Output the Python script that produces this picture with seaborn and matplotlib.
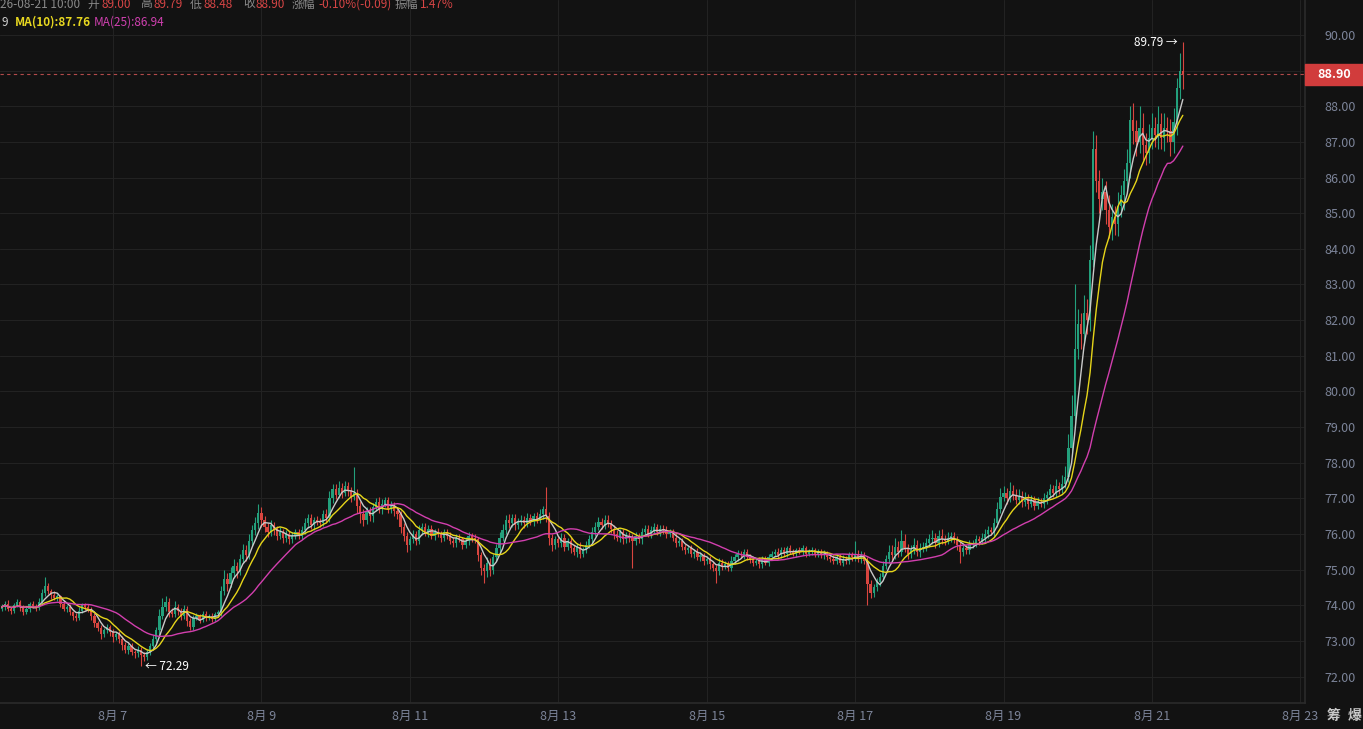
import numpy as np
import pandas as pd
import seaborn as sns
import matplotlib.pyplot as plt
import matplotlib.transforms as mtransforms
from matplotlib.patches import Rectangle

# hourly candles, 8月5 12:00 -> 8月21 10:00
first_open = 73.90
close = [
    73.95, 74.05, 73.90, 73.85, 74.00, 74.10, 73.95, 73.80, 73.90, 74.05, 73.98, 73.92,
    74.10, 74.35, 74.55, 74.40, 74.30, 74.20, 74.25, 74.05, 73.90, 73.95, 73.80, 73.70,
    73.65, 73.85, 74.00, 73.95, 73.90, 73.70, 73.50, 73.35, 73.20, 73.30, 73.40, 73.25,
    73.10, 73.20, 73.05, 72.90, 72.75, 72.85, 72.70, 72.65, 72.75, 72.60, 72.55, 72.70,
    72.85, 73.05, 73.30, 73.70, 73.95, 74.10, 73.80, 73.75, 73.95, 73.85, 73.70, 73.90,
    73.55, 73.40, 73.65, 73.70, 73.60, 73.75, 73.65, 73.70, 73.62, 73.75, 73.80, 74.40,
    74.75, 74.60, 74.90, 75.10, 74.95, 75.30, 75.55, 75.40, 75.80, 76.10, 76.30, 76.60,
    76.40, 76.20, 76.05, 76.25, 76.10, 75.95, 76.05, 75.90, 76.00, 75.85, 75.95, 76.05,
    75.95, 76.10, 76.30, 76.45, 76.25, 76.40, 76.35, 76.30, 76.55, 76.45, 77.00, 77.25,
    77.10, 77.30, 77.15, 77.35, 77.20, 77.05, 77.15, 76.80, 76.55, 76.40, 76.65, 76.50,
    76.75, 76.90, 76.70, 76.85, 76.95, 76.70, 76.80, 76.65, 76.55, 76.20, 75.95, 75.70,
    75.85, 76.00, 75.80, 76.10, 76.20, 76.05, 76.15, 75.95, 76.05, 76.00, 75.90, 76.05,
    75.95, 75.80, 75.75, 75.90, 75.85, 75.70, 75.80, 75.95, 75.90, 75.85, 75.40, 75.05,
    74.95, 75.20, 75.00, 75.35, 75.60, 75.90, 76.10, 76.40, 76.30, 76.45, 76.25, 76.35,
    76.40, 76.30, 76.45, 76.35, 76.50, 76.40, 76.55, 76.70, 76.50, 75.90, 75.70, 75.85,
    75.75, 75.90, 75.65, 75.80, 75.60, 75.50, 75.65, 75.45, 75.55, 75.70, 75.85, 76.05,
    76.20, 76.35, 76.25, 76.40, 76.30, 76.15, 76.00, 75.90, 76.05, 75.85, 75.95, 75.90,
    75.80, 75.95, 75.85, 76.05, 76.15, 76.00, 76.10, 76.20, 76.05, 76.15, 76.10, 76.00,
    76.05, 75.90, 75.75, 75.80, 75.65, 75.55, 75.60, 75.45, 75.50, 75.35, 75.40, 75.25,
    75.30, 75.15, 75.05, 74.95, 75.20, 75.10, 75.15, 75.05, 75.25, 75.35, 75.45, 75.40,
    75.50, 75.35, 75.30, 75.20, 75.25, 75.15, 75.30, 75.20, 75.35, 75.45, 75.50, 75.40,
    75.55, 75.45, 75.60, 75.50, 75.45, 75.55, 75.50, 75.60, 75.45, 75.50, 75.55, 75.45,
    75.50, 75.40, 75.45, 75.35, 75.30, 75.25, 75.35, 75.20, 75.30, 75.25, 75.40, 75.35,
    75.45, 75.30, 75.40, 75.25, 74.60, 74.35, 74.50, 74.65, 74.80, 75.10, 75.30, 75.50,
    75.40, 75.65, 75.50, 75.80, 75.60, 75.45, 75.55, 75.70, 75.50, 75.60, 75.65, 75.75,
    75.85, 75.90, 75.75, 75.95, 75.85, 75.80, 75.90, 75.95, 75.85, 75.70, 75.50, 75.60,
    75.55, 75.70, 75.75, 75.85, 75.80, 75.90, 76.00, 76.10, 76.05, 76.30, 76.70, 77.05,
    77.15, 77.00, 77.20, 77.10, 76.95, 77.05, 76.90, 77.00, 76.85, 76.95, 76.80, 76.90,
    76.85, 77.00, 77.10, 77.25, 77.15, 77.35, 77.25, 77.40, 77.60, 78.40, 79.30, 81.20,
    81.90, 81.60, 82.20, 82.00, 83.70, 86.80, 85.90, 85.40, 85.60, 85.10, 84.60, 84.90,
    84.70, 85.20, 85.50, 85.90, 86.40, 87.60, 87.30, 87.00, 87.40, 86.90, 86.70, 87.10,
    87.40, 87.20, 87.50, 87.10, 87.40, 87.30, 87.00, 87.55, 88.50, 89.00, 88.90,
]
# wick lengths in cents above / below the body
up_wick = [
    8, 6, 10, 5, 7, 9, 4, 6, 8, 5, 7, 6,
    10, 12, 25, 8, 6, 10, 7, 5, 9, 6, 8, 5,
    8, 10, 7, 6, 9, 5, 8, 6, 10, 7, 9, 6,
    9, 6, 8, 10, 7, 9, 8, 6, 10, 7, 9, 8,
    8, 12, 10, 20, 25, 15, 10, 12, 18, 9, 8, 10,
    8, 10, 7, 9, 6, 8, 10, 7, 9, 6, 8, 15,
    25, 15, 18, 20, 12, 15, 18, 14, 20, 15, 18, 25,
    15, 10, 12, 15, 10, 12, 14, 10, 12, 9, 11, 10,
    10, 12, 14, 10, 12, 9, 11, 10, 12, 14, 20, 15,
    15, 20, 12, 15, 10, 12, 73, 10, 12, 15, 10, 12,
    12, 10, 14, 12, 10, 9, 12, 10, 8, 10, 12, 10,
    10, 12, 9, 15, 10, 12, 9, 11, 10, 12, 9, 10,
    9, 10, 12, 9, 10, 8, 11, 10, 9, 10, 8, 10,
    10, 15, 12, 10, 12, 15, 18, 12, 15, 10, 12, 9,
    12, 10, 14, 12, 10, 12, 15, 10, 62, 12, 10, 9,
    10, 12, 9, 10, 12, 9, 10, 12, 9, 10, 12, 15,
    15, 12, 10, 14, 12, 10, 9, 12, 10, 9, 12, 10,
    10, 12, 9, 12, 10, 9, 12, 10, 9, 11, 10, 12,
    10, 9, 12, 10, 9, 8, 10, 9, 8, 10, 9, 8,
    9, 8, 10, 9, 12, 10, 9, 10, 12, 10, 9, 8,
    8, 9, 10, 8, 9, 10, 8, 9, 10, 8, 9, 10,
    8, 9, 7, 8, 9, 7, 8, 9, 7, 8, 9, 7,
    8, 9, 10, 8, 9, 10, 8, 9, 10, 8, 9, 10,
    35, 10, 12, 9, 10, 12, 9, 12, 10, 15, 12, 20,
    20, 25, 15, 30, 20, 12, 15, 18, 12, 15, 12, 15,
    15, 20, 12, 15, 18, 12, 15, 10, 12, 10, 9, 12,
    10, 12, 9, 12, 10, 12, 15, 12, 10, 15, 20, 25,
    20, 15, 25, 18, 15, 20, 15, 18, 12, 15, 12, 15,
    12, 15, 10, 15, 12, 20, 12, 25, 30, 40, 60, 180,
    40, 30, 50, 40, 40, 50, 40, 30, 40, 30, 40, 35,
    30, 40, 30, 35, 40, 40, 50, 30, 60, 40, 35, 40,
    40, 30, 50, 30, 40, 30, 35, 40, 30, 50, 79,
]
dn_wick = [
    6, 9, 5, 8, 7, 4, 10, 6, 5, 8, 6, 9,
    5, 8, 10, 9, 12, 6, 8, 10, 7, 9, 6, 12,
    10, 7, 6, 9, 8, 12, 10, 7, 14, 9, 8, 12,
    12, 8, 10, 14, 9, 11, 10, 12, 9, 31, 10, 8,
    9, 7, 10, 12, 8, 10, 14, 9, 8, 12, 10, 7,
    12, 10, 8, 6, 9, 7, 8, 6, 9, 7, 8, 10,
    12, 20, 10, 14, 18, 10, 12, 16, 10, 14, 12, 15,
    20, 15, 12, 10, 14, 12, 10, 14, 11, 12, 10, 9,
    10, 8, 9, 12, 10, 14, 9, 10, 8, 12, 10, 12,
    12, 10, 14, 9, 12, 15, 10, 20, 25, 18, 12, 14,
    15, 10, 12, 14, 9, 12, 10, 14, 12, 18, 15, 20,
    15, 10, 12, 9, 12, 10, 14, 10, 12, 9, 11, 10,
    10, 9, 12, 10, 8, 12, 9, 10, 12, 9, 15, 20,
    32, 15, 18, 12, 10, 12, 10, 9, 12, 10, 14, 12,
    10, 12, 9, 10, 12, 9, 10, 12, 15, 20, 18, 12,
    12, 10, 14, 9, 12, 10, 14, 12, 10, 9, 8, 10,
    10, 9, 12, 10, 9, 12, 14, 10, 12, 14, 10, 12,
    75, 10, 9, 12, 10, 9, 12, 10, 9, 11, 10, 12,
    9, 10, 12, 9, 10, 12, 9, 10, 12, 9, 10, 12,
    10, 12, 9, 32, 10, 12, 9, 10, 8, 9, 10, 8,
    9, 8, 10, 9, 8, 10, 9, 8, 10, 9, 8, 10,
    7, 8, 9, 7, 8, 9, 7, 8, 9, 7, 8, 9,
    9, 8, 10, 9, 8, 10, 9, 8, 10, 9, 8, 10,
    10, 9, 12, 10, 60, 15, 12, 10, 12, 10, 9, 10,
    12, 10, 15, 12, 10, 14, 12, 10, 12, 15, 10, 12,
    10, 12, 15, 10, 12, 10, 9, 12, 10, 15, 30, 12,
    12, 10, 9, 12, 10, 9, 12, 10, 9, 12, 10, 12,
    12, 15, 10, 14, 12, 10, 15, 12, 14, 10, 12, 10,
    10, 12, 15, 10, 12, 10, 12, 10, 12, 15, 20, 30,
    30, 40, 30, 40, 30, 20, 30, 40, 30, 40, 30, 35,
    30, 35, 30, 40, 30, 40, 35, 40, 30, 40, 35, 30,
    30, 35, 40, 30, 35, 30, 40, 30, 35, 30, 42,
]
day_labels = ["8月 7", "8月 9", "8月 11", "8月 13", "8月 15", "8月 17", "8月 19", "8月 21", "8月 23"]
day_offsets = [0, 2, 4, 6, 8, 10, 12, 14, 16]   # days after 8月7 00:00
hours_before = 36                               # candles before 8月7 00:00
y_ticks = list(range(72, 91))
last_price = 88.90
header1 = [("26-08-21 10:00", "g"), ("开", "g"), ("89.00", "r"), ("高", "g"), ("89.79", "r"),
           ("低", "g"), ("88.48", "r"), ("收", "g"), ("88.90", "r"), ("涨幅", "g"),
           ("-0.10%(-0.09)", "r"), ("振幅", "g"), ("1.47%", "r")]
header1_x = [0, 87, 102, 140, 153, 190, 204, 243, 256, 292, 318, 395, 420]

bg = "#121212"
green = "#23a07c"
red = "#d8453f"

df = pd.DataFrame({"close": close})
df["open"] = [first_open] + close[:-1]
df["high"] = df[["open", "close"]].max(axis=1) + np.array(up_wick) / 100
df["low"] = df[["open", "close"]].min(axis=1) - np.array(dn_wick) / 100
df["i"] = np.arange(len(df))
for n in (5, 10, 25):
    df[f"ma{n}"] = df["close"].rolling(n, min_periods=1).mean()

sns.set_theme(style="dark", rc={"axes.facecolor": bg, "figure.facecolor": bg,
                                "grid.color": "#222222", "axes.edgecolor": "#2a2a2a"})
plt.rcParams["font.family"] = ["Noto Sans CJK SC", "DejaVu Sans"]

W, H = 1363, 729
fig = plt.figure(figsize=(W / 100, H / 100), dpi=100)
ax = fig.add_axes([0, 26 / H, 1305 / W, 1 - 26 / H])

up = df["close"] >= df["open"]
cols = np.where(up, green, red)
ax.vlines(df["i"], df["low"], df["high"], colors=cols, linewidth=0.8, zorder=2)
body = (df["close"] - df["open"]).abs().clip(lower=0.02)
ax.bar(df["i"], body, bottom=df[["open", "close"]].min(axis=1), width=0.72,
       color=cols, linewidth=0, zorder=3)

sns.lineplot(data=df, x="i", y="ma5", ax=ax, color="#c9c9c9", linewidth=1, zorder=4)
sns.lineplot(data=df, x="i", y="ma10", ax=ax, color="#e6d51a", linewidth=1, zorder=4)
sns.lineplot(data=df, x="i", y="ma25", ax=ax, color="#d23fae", linewidth=1, zorder=4)

ax.axhline(last_price, color="#b34a4a", linewidth=0.8, linestyle=(0, (3, 3)), zorder=5)

ax.set_xlim(-1.7 / 3.092, (1305 - 1.7) / 3.092)
ax.set_ylim(71.26, 90.98)
ax.set_xticks([hours_before + d * 24 for d in day_offsets])
ax.set_xticklabels(day_labels)
ax.set_yticks(y_ticks)
# the last-price tag covers the neighbouring tick label
ax.set_yticklabels(["" if abs(v - last_price) < 0.5 else f"{v:.2f}" for v in y_ticks])
ax.yaxis.tick_right()
ax.tick_params(axis="y", length=0, pad=14, labelsize=9, labelcolor="#7c8499")
ax.tick_params(axis="x", length=0, pad=5, labelsize=9, labelcolor="#7c8499")
ax.grid(True, linewidth=0.8)
ax.set_xlabel("")
ax.set_ylabel("")
for s in ("top", "left"):
    ax.spines[s].set_visible(False)
ax.spines["right"].set_color("#2a2a2a")
ax.spines["bottom"].set_color("#2a2a2a")

# high / low markers
hi = df["high"].idxmax()
lo = df["low"].idxmin()
ax.text(hi - 1.6, df["high"][hi], f"{df['high'][hi]:.2f} →", color="white", fontsize=8.5,
        ha="right", va="center", zorder=6)
ax.text(lo + 1.2, df["low"][lo], f"← {df['low'][lo]:.2f}", color="white", fontsize=8.5,
        ha="left", va="center", zorder=6)

# last price tag on the axis
tr = mtransforms.blended_transform_factory(fig.transFigure, ax.transData)
box_h = 21 / 35.65
fig.patches.append(Rectangle((1305 / W, last_price - box_h / 2), 58 / W, box_h,
                             transform=tr, color="#d13c3c", zorder=10))
fig.text(1334 / W, last_price, f"{last_price:.2f}", transform=tr, color="white",
         fontsize=9, fontweight="bold", ha="center", va="center", zorder=11)

# header
for (txt, c), x in zip(header1, header1_x):
    fig.text(x / W, 1 - 4 / H, txt, color="#8a8a8a" if c == "g" else "#d64545",
             fontsize=8.5, ha="left", va="center")
ma_tail = df.iloc[-1]
fig.text(2 / W, 1 - 22 / H, f"{ma_tail['ma5']:.2f}"[-1], color="#d0d0d0", fontsize=8.5,
         ha="left", va="center")
fig.text(15 / W, 1 - 22 / H, "MA(10):87.76", color="#e8d820", fontsize=8.5,
         fontweight="bold", ha="left", va="center")
fig.text(94 / W, 1 - 22 / H, "MA(25):86.94", color="#d040b0", fontsize=8.5,
         ha="left", va="center")

fig.text(1334 / W, 1 - 716 / H, "筹", color="#c8c8c8", fontsize=10, fontweight="bold",
         ha="center", va="center")
fig.text(1355 / W, 1 - 716 / H, "爆", color="#c8c8c8", fontsize=10, fontweight="bold",
         ha="center", va="center")

fig.savefig("out.png", dpi=100, facecolor=bg)
